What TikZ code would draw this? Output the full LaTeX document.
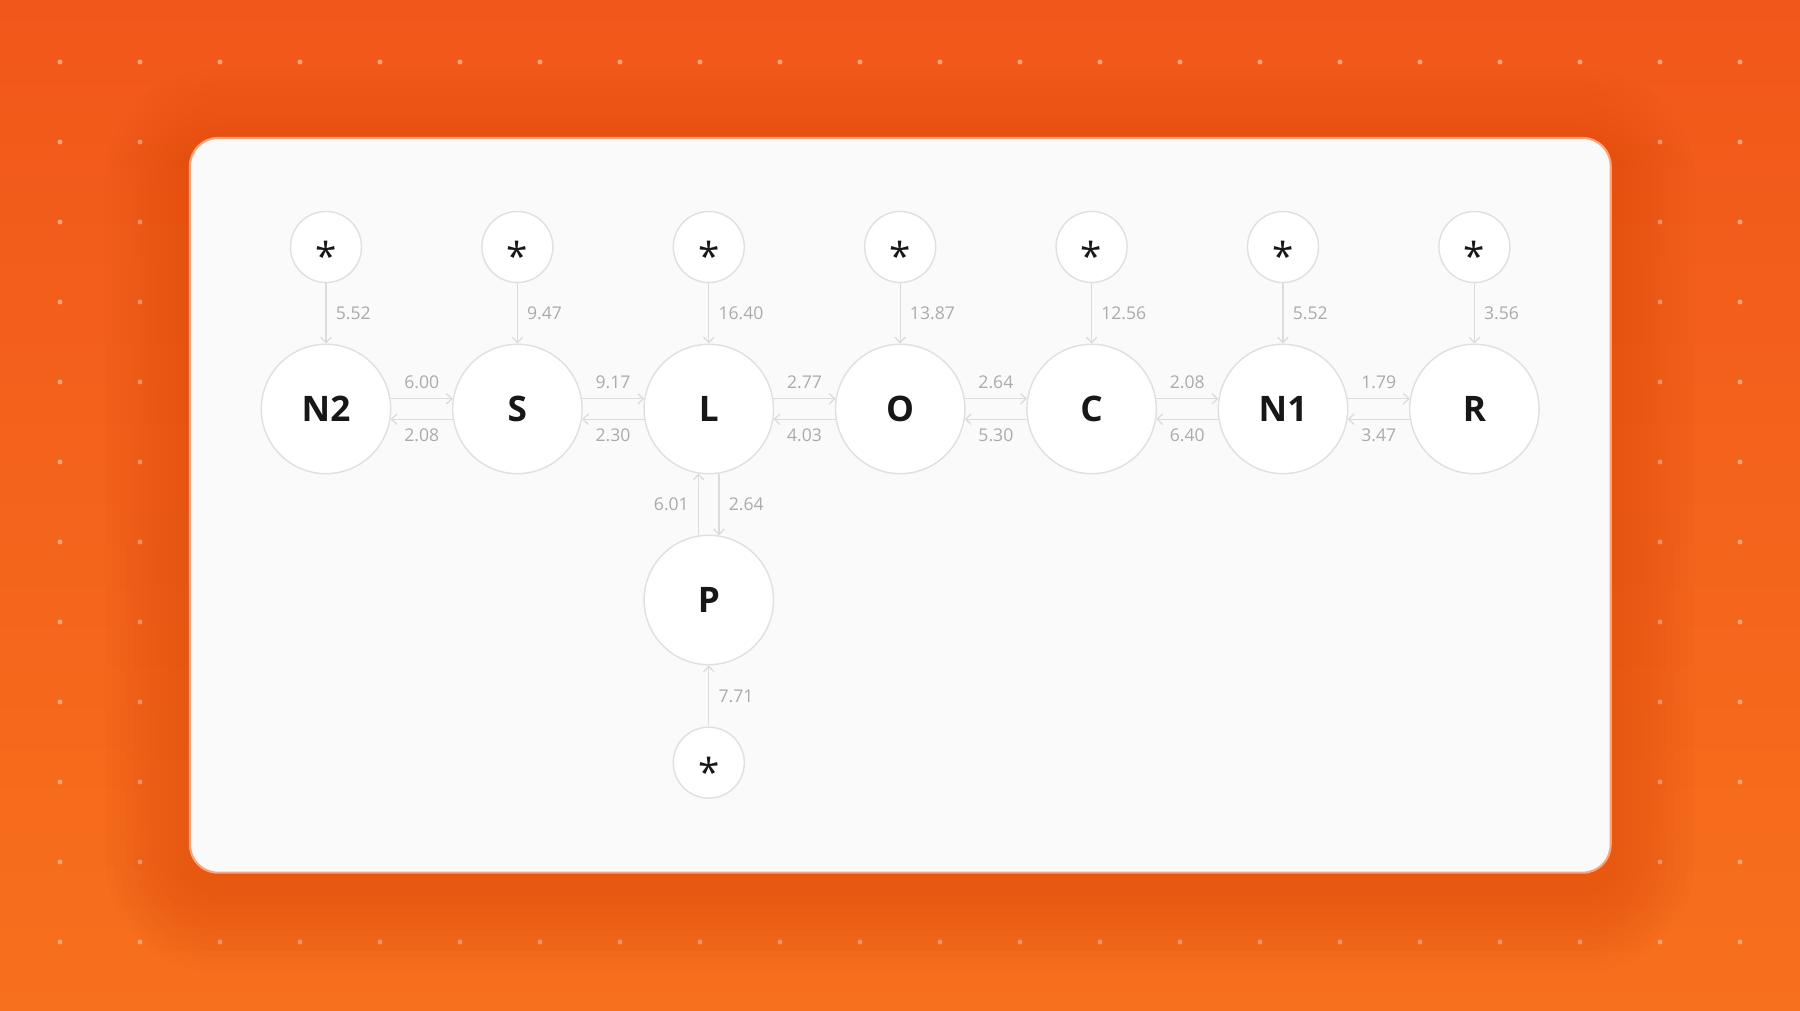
\documentclass[tikz,border=0pt]{standalone}
\usepackage{fontspec}
\setmainfont{Open Sans}
\usepackage{xcolor}
\usepackage{tikz}
\usetikzlibrary{arrows.meta}
\definecolor{bgTop}{HTML}{F1571A}
\definecolor{bgBottom}{HTML}{F7701D}
\definecolor{glow}{HTML}{D4420A}
\definecolor{dotCol}{HTML}{F9A67F}
\definecolor{cardFill}{HTML}{FAFAFA}
\definecolor{cardEdge}{HTML}{FCA47C}
\definecolor{ringCol}{HTML}{E0E0E0}
\definecolor{edgeCol}{HTML}{DCDCDC}
\definecolor{weightCol}{HTML}{ABABAB}
\definecolor{labelCol}{HTML}{171717}
\newcommand{\startmark}{\raisebox{-0.62em}[0pt][0pt]{*}}
\tikzset{%
  stateNode/.style={circle, draw=ringCol, fill=white, line width=0.4pt, minimum size=12.94mm, inner sep=0pt, text=labelCol, font=\fontsize{10}{12}\selectfont\bfseries},
  startNode/.style={circle, draw=ringCol, fill=white, line width=0.4pt, minimum size=7.1mm, inner sep=0pt, text=labelCol, font=\fontsize{11}{12}\selectfont},
  % ---
  % transitions
  % ---
  flow/.style={draw=edgeCol, line width=0.37pt, -{Straight Barb[length=0.55mm,width=1.05mm]}},
  weight/.style={text=weightCol, inner sep=2.6pt, font=\fontsize{5}{6}\selectfont},
  %
  card/.style={fill=cardFill, draw=cardEdge, line width=0.6pt, rounded corners=2.8mm}}

\begin{document}
\begin{tikzpicture}
    \useasboundingbox (0,0) rectangle (18,10.11);
    \shade[top color=bgTop, bottom color=bgBottom] (0,0) rectangle (18,10.11);
    \foreach \i in {0,...,21}
      \foreach \j in {0,...,11}
        \fill[dotCol] (0.6+0.8*\i, 9.49-0.8*\j) circle (0.025);
    % shadow of the card
    \foreach \k in {1,...,12} {
      \pgfmathsetmacro\rr{0.28+0.07*\k}
      \fill[glow, opacity=0.035, rounded corners=\rr cm] (1.90-0.07*\k, 8.58+0.07*\k) rectangle (16.107+0.07*\k, 1.23-0.07*\k);
    }
    \draw[card] (1.90,8.73) rectangle (16.107,1.383);

    \node[stateNode] (N2) at (3.26,6.02) {N2};
    \node[stateNode] (S) at (5.174,6.02) {S};
    \node[stateNode] (L) at (7.088,6.02) {L};
    \node[stateNode] (O) at (9.002,6.02) {O};
    \node[stateNode] (C) at (10.916,6.02) {C};
    \node[stateNode] (N1) at (12.83,6.02) {N1};
    \node[stateNode] (R) at (14.744,6.02) {R};
    \node[stateNode] (P) at (7.088,4.11) {P};

    \node[startNode] (startN2) at (3.26,7.64) {\startmark};
    \node[startNode] (startS) at (5.174,7.64) {\startmark};
    \node[startNode] (startL) at (7.088,7.64) {\startmark};
    \node[startNode] (startO) at (9.002,7.64) {\startmark};
    \node[startNode] (startC) at (10.916,7.64) {\startmark};
    \node[startNode] (startN1) at (12.83,7.64) {\startmark};
    \node[startNode] (startR) at (14.744,7.64) {\startmark};
    \node[startNode] (startP) at (7.088,2.483) {\startmark};

    \draw[flow] (startN2) -- node[weight,right]{5.52} (N2);
    \draw[flow] (startS) -- node[weight,right]{9.47} (S);
    \draw[flow] (startL) -- node[weight,right]{16.40} (L);
    \draw[flow] (startO) -- node[weight,right]{13.87} (O);
    \draw[flow] (startC) -- node[weight,right]{12.56} (C);
    \draw[flow] (startN1) -- node[weight,right]{5.52} (N1);
    \draw[flow] (startR) -- node[weight,right]{3.56} (R);
    \draw[flow] (startP) -- node[weight,right]{7.71} (P);

    \draw[flow] (N2.9) -- node[weight,above]{6.00} (S.171);
    \draw[flow] (S.189) -- node[weight,below]{2.08} (N2.351);
    \draw[flow] (S.9) -- node[weight,above]{9.17} (L.171);
    \draw[flow] (L.189) -- node[weight,below]{2.30} (S.351);
    \draw[flow] (L.9) -- node[weight,above]{2.77} (O.171);
    \draw[flow] (O.189) -- node[weight,below]{4.03} (L.351);
    \draw[flow] (O.9) -- node[weight,above]{2.64} (C.171);
    \draw[flow] (C.189) -- node[weight,below]{5.30} (O.351);
    \draw[flow] (C.9) -- node[weight,above]{2.08} (N1.171);
    \draw[flow] (N1.189) -- node[weight,below]{6.40} (C.351);
    \draw[flow] (N1.9) -- node[weight,above]{1.79} (R.171);
    \draw[flow] (R.189) -- node[weight,below]{3.47} (N1.351);

    \draw[flow] (P.99) -- node[weight,left]{6.01} (L.261);
    \draw[flow] (L.279) -- node[weight,right]{2.64} (P.81);
\end{tikzpicture}
\end{document}
